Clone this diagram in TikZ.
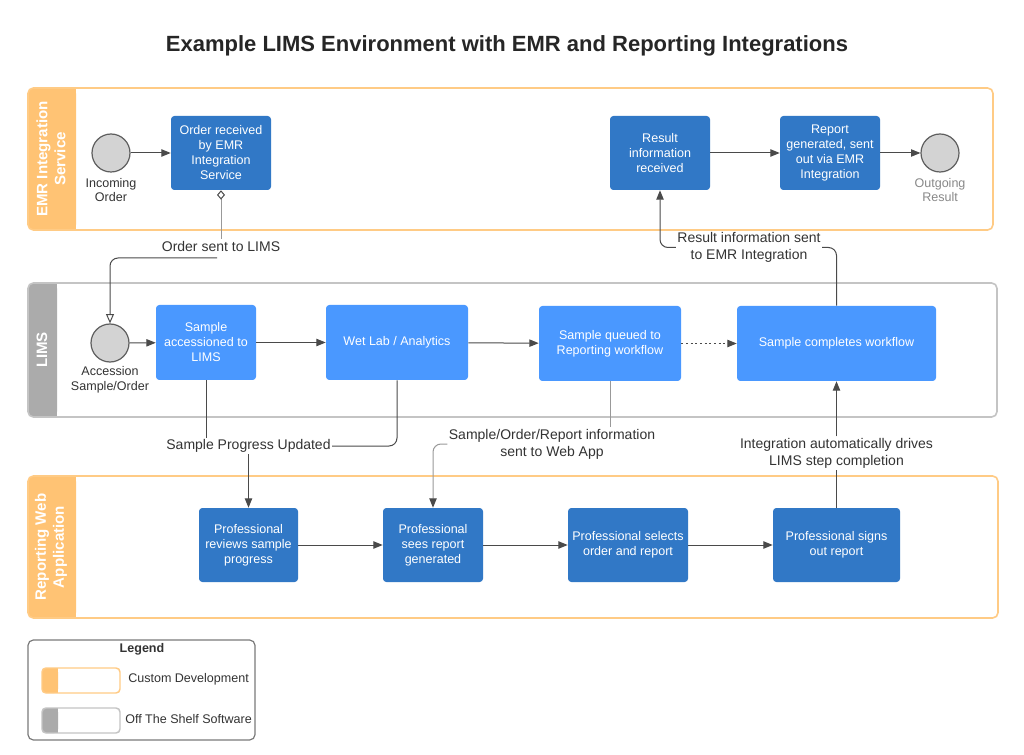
\documentclass[tikz,border=0pt]{standalone}
\usepackage{fontspec}
\setmainfont{Liberation Sans}
\usetikzlibrary{arrows.meta}
\definecolor{dblue}{HTML}{3178C6}
\definecolor{lblue}{HTML}{4A98FF}
\definecolor{orhead}{HTML}{FFC374}
\definecolor{orline}{HTML}{FFCB85}
\definecolor{grhead}{HTML}{ABABAB}
\definecolor{grline}{HTML}{C4C4C4}
\definecolor{txt}{HTML}{333333}
\definecolor{conn}{HTML}{4A4A4A}
\definecolor{lconn}{HTML}{999999}
\definecolor{circfill}{HTML}{D3D3D3}
\definecolor{circline}{HTML}{5E5E5E}
\definecolor{legline}{HTML}{7A7A7A}
\definecolor{fadetxt}{HTML}{888888}
\tikzset{
 box/.style={rounded corners=2.5pt, align=center, text=white, font=\fontsize{9.4}{11.25}\selectfont, inner sep=2pt},
 darkbox/.style={box, fill=dblue},
 lightbox/.style={box, fill=lblue},
 evt/.style={circle, fill=circfill, draw=circline, line width=0.9pt, minimum size=28.5pt, inner sep=0pt},
 evtlabel/.style={align=center, text=txt, font=\fontsize{9.4}{10.9}\selectfont, inner sep=0pt},
 lbl/.style={align=center, text=txt, font=\fontsize{10.5}{12.75}\selectfont, inner sep=1pt},
 tip/.style={-{Triangle[length=7pt,width=5.5pt,color=conn]}},
 arr/.style={draw=conn, line width=0.75pt, tip},
 ln/.style={draw=conn, line width=0.75pt},
 lln/.style={draw=lconn, line width=0.75pt},
 lanetxt/.style={rotate=90, align=center, text=white, font=\bfseries\fontsize{11.3}{13.5}\selectfont, inner sep=0pt},
 legtxt/.style={anchor=west, text=txt, font=\fontsize{9.4}{11}\selectfont, inner sep=0pt},
}
\begin{document}
\begin{tikzpicture}[x=0.75pt,y=-0.75pt]
\useasboundingbox (0,0) rectangle (1024,755);
\fill[white] (0,0) rectangle (1024,755);

% title
\node[font=\bfseries\fontsize{16.5}{19}\selectfont, text=black!85] (title) at (507,46) {Example LIMS Environment with EMR and Reporting Integrations};

% lane 1
\fill[orhead, rounded corners=4pt] (28,88) rectangle (76,230);
\fill[orhead] (66,88) rectangle (76,230);
\draw[orline, line width=1.2pt, rounded corners=4pt] (28,88) rectangle (993,230);
\node[lanetxt] (h1) at (51,159) {EMR Integration\\Service};

% lane 2
\fill[grhead, rounded corners=4pt] (28,283) rectangle (57,417);
\fill[grhead] (48,283) rectangle (57,417);
\draw[grline, line width=1.2pt, rounded corners=4pt] (28,283) rectangle (997,417);
\node[lanetxt] (h2) at (42,350) {LIMS};

% lane 3
\fill[orhead, rounded corners=4pt] (28,476) rectangle (76,618);
\fill[orhead] (66,476) rectangle (76,618);
\draw[orline, line width=1.2pt, rounded corners=4pt] (28,476) rectangle (998,618);
\node[lanetxt] (h3) at (51,547) {Reporting Web\\Application};

% EMR lane nodes
\node[evt] (inc) at (111,153) {};
\node[evtlabel] (incl) at (111,190) {Incoming\\Order};
\node[darkbox, minimum width=75pt, minimum height=55.5pt] (ord) at (221,153) {Order received\\by EMR\\Integration\\Service};
\node[darkbox, minimum width=75pt, minimum height=55.5pt] (res) at (660,153) {Result\\information\\received};
\node[darkbox, minimum width=75pt, minimum height=55.5pt] (rep) at (830,153) {Report\\generated, sent\\out via EMR\\Integration};
\node[evt] (out) at (940,153) {};
\node[evtlabel, text=fadetxt] (outl) at (940,190) {Outgoing\\Result};

% LIMS lane nodes
\node[evt] (acc) at (110,343) {};
\node[evtlabel] (accl) at (110,379.5) {Accession\\Sample/Order};
\node[lightbox, minimum width=75pt, minimum height=56.25pt] (sacc) at (206,342.5) {Sample\\accessioned to\\LIMS};
\node[lightbox, minimum width=106.5pt, minimum height=56.25pt] (wet) at (397,342.5) {Wet Lab / Analytics};
\node[lightbox, minimum width=106.5pt, minimum height=56.25pt] (squ) at (610,343.5) {Sample queued to\\Reporting workflow};
\node[lightbox, minimum width=149.25pt, minimum height=56.25pt] (scomp) at (836.5,343.5) {Sample completes workflow};

% Reporting lane nodes
\node[darkbox, minimum width=74.25pt, minimum height=55.5pt] (prev) at (248.5,545) {Professional\\reviews sample\\progress};
\node[darkbox, minimum width=75pt, minimum height=55.5pt] (psee) at (433,545) {Professional\\sees report\\generated};
\node[darkbox, minimum width=90pt, minimum height=55.5pt] (psel) at (628,545) {Professional selects\\order and report};
\node[darkbox, minimum width=95.25pt, minimum height=55.5pt] (psign) at (836.5,545) {Professional signs\\out report};

% connector labels
\node[lbl] (l1) at (221,246) {Order sent to LIMS};
\node[lbl] (l2) at (749,247.5) {Result information sent\\to EMR Integration};
\node[lbl] (l3) at (248.5,446) {Sample Progress Updated};
\node[lbl] (l4) at (552,444) {Sample/Order/Report information\\sent to Web App};
\node[lbl] (l5) at (836.5,453) {Integration automatically drives\\LIMS step completion};
\coordinate (k1) at (217,258);

% EMR connectors
\draw[arr] (inc) -- (ord);
\draw[lln, {Diamond[open,fill=white,length=7pt,width=6pt,color=conn]}-] (ord.south) -- (l1.north);
\draw[ln, rounded corners=6pt, -{Triangle[open,fill=white,length=7pt,width=6pt,color=conn]}] (k1) -| (acc.north);
\draw[arr] (res) -- (rep);
\draw[arr] (rep) -- (out);

% LIMS connectors
\draw[arr] (acc) -- (sacc);
\draw[arr] (sacc) -- (wet);
\draw[arr] (wet) -- (squ);
\draw[draw=conn, line width=0.75pt, dash pattern=on 1.5pt off 2pt, tip] (squ) -- (scomp);
\draw[ln, rounded corners=6pt] (scomp.north) |- (l2.east);
\draw[arr, rounded corners=6pt] (l2.west) -| (res.south);

% cross-lane connectors
\draw[ln] (sacc.south) -- (sacc.south |- l3.north);
\draw[ln, rounded corners=6pt] (wet.south) |- (l3.east);
\draw[arr] (l3.south -| prev.north) -- (prev.north);
\draw[lln] (squ.south) -- (squ.south |- l4.north);
\draw[lln, tip, rounded corners=6pt] (l4.west) -| (psee.north);
\draw[ln] (psign.north) -- (psign.north |- l5.south);
\draw[arr] (l5.north -| scomp.south) -- (scomp.south);

% Reporting connectors
\draw[arr] (prev) -- (psee);
\draw[arr] (psee) -- (psel);
\draw[arr] (psel) -- (psign);

% legend
\draw[legline, line width=0.9pt, rounded corners=4pt] (28,640) rectangle (255,740);
\node[text=txt, font=\bfseries\fontsize{9.4}{11}\selectfont, inner sep=0pt] (lg) at (142,649) {Legend};
\fill[orhead, rounded corners=3pt] (42,668) rectangle (58,693);
\fill[orhead] (52,668) rectangle (58,693);
\draw[orline, line width=1.1pt, rounded corners=3pt] (42,668) rectangle (120,693);
\node[legtxt] (lg1) at (128,679) {Custom Development};
\fill[grhead, rounded corners=3pt] (42,708) rectangle (58,733);
\fill[grhead] (52,708) rectangle (58,733);
\draw[grline, line width=1.1pt, rounded corners=3pt] (42,708) rectangle (120,733);
\node[legtxt] (lg2) at (125,719) {Off The Shelf Software};
\end{tikzpicture}
\end{document}
